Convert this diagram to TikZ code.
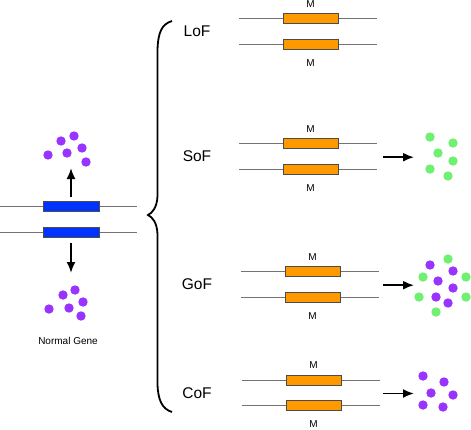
\documentclass[tikz,border=0pt]{standalone}
\usepackage{fontspec}
\setmainfont{Liberation Sans}
\usetikzlibrary{arrows.meta}
\definecolor{geneblue}{HTML}{0033FF}
\definecolor{mutorange}{HTML}{FF9900}
\definecolor{protpurple}{HTML}{9933FF}
\definecolor{protgreen}{HTML}{70F070}

\begin{document}
\begin{tikzpicture}[x=1pt,y=-1pt,
    chrom/.style={draw=black!55, line width=0.9pt},
    normbox/.style={draw=black!70, fill=geneblue, line width=0.7pt, minimum width=56pt, minimum height=10pt, inner sep=0pt},
    mutbox/.style={draw=black!70, fill=mutorange, line width=0.7pt, minimum width=55pt, minimum height=10pt, inner sep=0pt},
    pdot/.style={circle, fill=protpurple, minimum size=9.4pt, inner sep=0pt},
    gdot/.style={circle, fill=protgreen, minimum size=9.4pt, inner sep=0pt},
    mlabel/.style={font=\fontsize{10}{12}\selectfont, inner sep=0pt},
    typelabel/.style={font=\fontsize{15.5}{18}\selectfont, inner sep=0pt},
    arr/.style={-{Latex[length=11pt,width=9pt]}, line width=1.9pt}]
    \useasboundingbox (0,0) rectangle (471,429);
    % normal gene
    \draw[chrom] (0,206) -- (137,206);
    \draw[chrom] (0,232) -- (137,232);
    \node[normbox] (norm-a) at (71,206) {};
    \node[normbox] (norm-b) at (71,232) {};
    \coordinate (up-end) at (71,168);
    \coordinate (down-end) at (71,273);
    \draw[arr, shorten <=4pt] (norm-a) -- (up-end);
    \draw[arr, shorten <=6pt] (norm-b) -- (down-end);
    \foreach \p [count=\i] in {(61,141),(74,136),(82,148),(48,155),(67,153),(86,162)}
        \node[pdot] (up-\i) at \p {};
    \foreach \p [count=\i] in {(63,295),(75,290),(83,302),(49,309),(69,308),(81,316)}
        \node[pdot] (down-\i) at \p {};
    \node[mlabel] (normal) at (68,341) {Normal Gene};
    % brace
    \draw[line width=1.8pt] (172,21) .. controls (162,24) and (158,32) .. (157.5,50)
        -- (157.5,196) .. controls (157,208) and (152,213) .. (148,215)
        .. controls (152,217) and (157,222) .. (157.5,234)
        -- (157.5,384) .. controls (158,400) and (162,409) .. (172,412);
    % mutant genes
    \foreach \nm/\dx/\yy in {LoF/0/18.7, SoF/0/143.7, GoF/2/271.7, CoF/3/380} {
        \draw[chrom] (239+\dx,\yy) -- (377+\dx,\yy);
        \draw[chrom] (239+\dx,\yy+25.5) -- (377+\dx,\yy+25.5);
        \node[mutbox] (\nm-a) at (310.5+\dx,\yy) {};
        \node[mutbox] (\nm-b) at (310.5+\dx,\yy+25.5) {};
        \node[mlabel] (\nm-ma) at ([yshift=15pt]\nm-a) {M};
        \node[mlabel] (\nm-mb) at ([yshift=-19pt]\nm-b) {M};
        \node[typelabel] (\nm) at (197,\yy+12.75) {\nm};
        \coordinate (\nm-s) at (383,\yy+13.5);
        \coordinate (\nm-e) at (414,\yy+13.5);
    }
    \foreach \nm in {SoF,GoF,CoF}
        \draw[arr] (\nm-s) -- (\nm-e);
    % products
    \foreach \p [count=\i] in {(430,137),(453,143),(438,153),(453,161),(430,169),(448,176)}
        \node[gdot] (sof-\i) at \p {};
    \foreach \p [count=\i] in {(448,259),(423,277),(466,277),(419,297),(466,297),(436,312)}
        \node[gdot] (gofg-\i) at \p {};
    \foreach \p [count=\i] in {(430,265),(453,271),(438,281),(453,288),(436,297),(448,303)}
        \node[pdot] (gofp-\i) at \p {};
    \foreach \p [count=\i] in {(423,376),(444,382),(431,393),(453,395),(423,405),(443,407)}
        \node[pdot] (cof-\i) at \p {};
\end{tikzpicture}
\end{document}
